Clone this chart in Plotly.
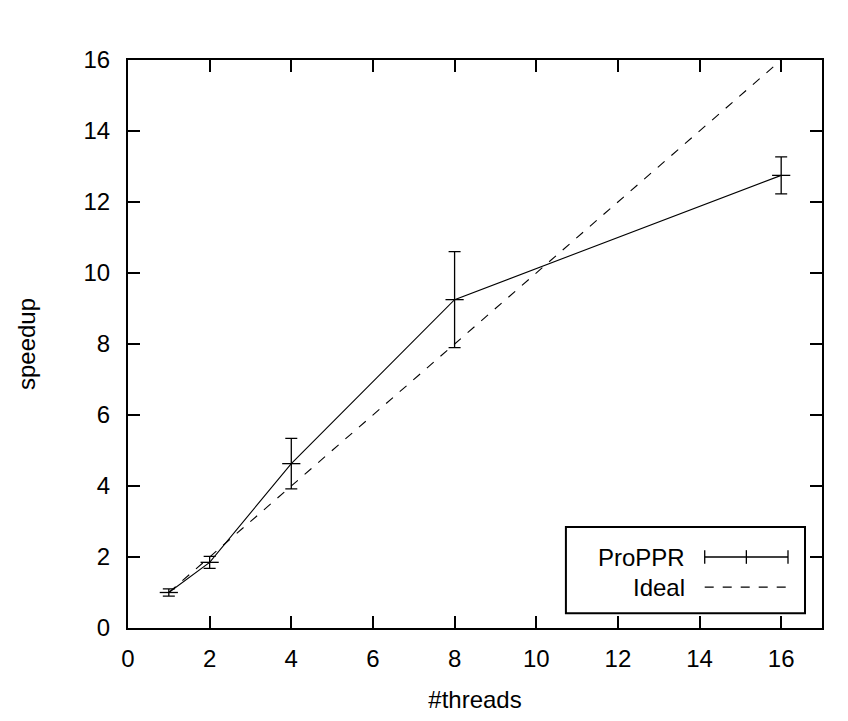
import plotly.graph_objects as go

# measured speedup for ProPPR
threads = [1, 2, 4, 8, 16]
speedup = [1.0, 1.85, 4.63, 9.25, 12.75]
speedup_err = [0.1, 0.17, 0.71, 1.35, 0.52]

# ideal linear speedup
ideal_threads = [1, 16]
ideal_speedup = [1, 16]

x_ticks = [0, 2, 4, 6, 8, 10, 12, 14, 16]
y_ticks = [0, 2, 4, 6, 8, 10, 12, 14, 16]

FONT = "Liberation Sans, Arial, sans-serif"
FSIZE = 24

fig = go.Figure()
fig.add_trace(go.Scatter(
    x=ideal_threads, y=ideal_speedup, mode="lines", name="Ideal",
    line=dict(color="black", width=1.1, dash="dash"),
))
fig.add_trace(go.Scatter(
    x=threads, y=speedup, mode="lines+markers", name="ProPPR",
    line=dict(color="black", width=1.1),
    marker=dict(symbol="line-ew", size=13, line=dict(color="black", width=1.3)),
    error_y=dict(type="data", array=speedup_err, color="black", thickness=1.3, width=6),
))

axis_common = dict(
    showline=True, linecolor="black", linewidth=2, mirror="allticks",
    ticks="inside", ticklen=12, tickwidth=2, tickcolor="black",
    showgrid=False, zeroline=False,
    tickfont=dict(family=FONT, size=FSIZE, color="black"),
)
fig.update_xaxes(range=[0, 17], tickvals=x_ticks, ticklabelstandoff=8,
                 title=dict(text="#threads", standoff=20,
                            font=dict(family=FONT, size=FSIZE, color="black")), **axis_common)
fig.update_yaxes(range=[0, 16], tickvals=y_ticks, ticklabelstandoff=11,
                 title=dict(text="speedup", standoff=41,
                            font=dict(family=FONT, size=FSIZE, color="black")), **axis_common)

# gnuplot style key, bottom right
shapes = [
    dict(type="rect", xref="paper", yref="paper", x0=0.631, x1=0.9755, y0=0.026, y1=0.178,
         line=dict(color="black", width=2), fillcolor="white", layer="above"),
    dict(type="line", xref="paper", yref="paper", x0=0.831, x1=0.951, y0=0.125, y1=0.125,
         line=dict(color="black", width=1.3)),
    dict(type="line", xref="paper", yref="paper", x0=0.831, x1=0.831, y0=0.113, y1=0.137,
         line=dict(color="black", width=1.3)),
    dict(type="line", xref="paper", yref="paper", x0=0.891, x1=0.891, y0=0.113, y1=0.137,
         line=dict(color="black", width=1.3)),
    dict(type="line", xref="paper", yref="paper", x0=0.951, x1=0.951, y0=0.113, y1=0.137,
         line=dict(color="black", width=1.3)),
    dict(type="line", xref="paper", yref="paper", x0=0.831, x1=0.951, y0=0.072, y1=0.072,
         line=dict(color="black", width=1.1, dash="dash")),
]
annotations = [
    dict(text="ProPPR", xref="paper", yref="paper", x=0.8055, y=0.125, xanchor="right",
         yanchor="middle", showarrow=False, font=dict(family=FONT, size=FSIZE, color="black")),
    dict(text="Ideal", xref="paper", yref="paper", x=0.8055, y=0.072, xanchor="right",
         yanchor="middle", showarrow=False, font=dict(family=FONT, size=FSIZE, color="black")),
]

fig.update_layout(
    width=848, height=721,
    margin=dict(l=120, r=34, t=52, b=101),
    plot_bgcolor="white", paper_bgcolor="white",
    showlegend=False,
    shapes=shapes, annotations=annotations,
)

fig.write_html("out.html")
